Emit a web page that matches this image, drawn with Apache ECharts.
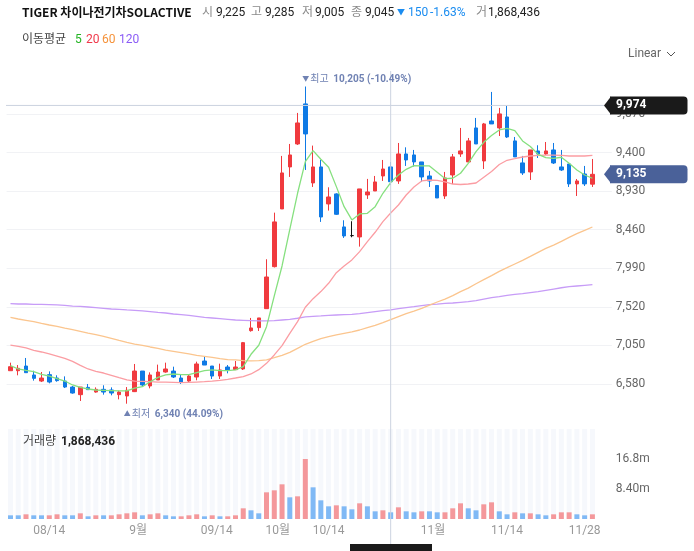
<!DOCTYPE html>
<html>
<head>
<meta charset="utf-8">
<style>
html, body { margin: 0; padding: 0; background: #fff; }
#chart { width: 694px; height: 551px; }
</style>
<script src="https://cdn.jsdelivr.net/npm/echarts@6/dist/echarts.min.js"></script>
</head>
<body>
<div id="chart"></div>
<script>
const opens = [6742, 6742, 6799, 6690, 6616, 6694, 6653, 6616, 6543, 6450, 6539, 6482, 6515, 6507, 6450, 6434, 6487, 6738, 6556, 6629, 6726, 6738, 6653, 6616, 6665, 6860, 6799, 6677, 6787, 6755, 6763, 7230, 7267, 7498, 8010, 8713, 9225, 9505, 9993, 9030, 9225, 8774, 8896, 8494, 8388, 8372, 8884, 8932, 9115, 9225, 9054, 9383, 9371, 9286, 9115, 8999, 8871, 9127, 9383, 9286, 9700, 9298, 9785, 9700, 9834, 9542, 9274, 9164, 9420, 9383, 9432, 9225, 9261, 9018, 9139, 9015];
const closes = [6791, 6771, 6718, 6649, 6653, 6604, 6621, 6543, 6470, 6543, 6511, 6515, 6482, 6470, 6482, 6503, 6738, 6568, 6690, 6726, 6763, 6665, 6604, 6677, 6824, 6811, 6677, 6751, 6751, 6787, 7084, 7263, 7385, 7884, 8555, 9152, 9371, 9761, 9627, 9225, 8615, 8859, 8648, 8384, 8388, 8957, 8920, 9042, 9200, 9045, 9383, 9310, 9286, 9103, 9054, 8847, 9091, 9347, 9420, 9542, 9505, 9749, 9749, 9871, 9590, 9347, 9152, 9432, 9383, 9420, 9273, 9188, 9018, 9054, 9018, 9135];
const lows = [6742, 6686, 6718, 6621, 6604, 6588, 6608, 6531, 6462, 6373, 6507, 6474, 6450, 6442, 6393, 6340, 6482, 6556, 6527, 6629, 6718, 6653, 6580, 6596, 6625, 6811, 6641, 6641, 6710, 6751, 6751, 7218, 7226, 7498, 8000, 8713, 9103, 9493, 9188, 8981, 8555, 8693, 8640, 8360, 8368, 8254, 8835, 8932, 9054, 9005, 9018, 9237, 9230, 9042, 8981, 8847, 8835, 9018, 9347, 9286, 9505, 9200, 9749, 9602, 9578, 9347, 9127, 9066, 9334, 9371, 9261, 9176, 8981, 8871, 8993, 8981];
const highs = [6840, 6811, 6897, 6742, 6726, 6734, 6686, 6673, 6556, 6543, 6580, 6539, 6564, 6539, 6499, 6543, 6824, 6738, 6722, 6816, 6840, 6791, 6690, 6698, 6852, 6909, 6799, 6828, 6811, 6860, 7092, 7385, 7385, 8100, 8668, 9359, 9505, 9883, 10205, 9485, 9310, 8977, 8904, 8575, 8563, 8957, 9079, 9115, 9310, 9285, 9517, 9464, 9432, 9286, 9176, 8999, 9164, 9383, 9700, 9578, 9822, 9761, 10139, 9944, 9968, 9590, 9359, 9432, 9489, 9529, 9517, 9432, 9261, 9078, 9237, 9322];

const ma5 = [6803, 6763, 6746, 6730, 6698, 6677, 6645, 6616, 6568, 6539, 6519, 6507, 6503, 6499, 6495, 6495, 6531, 6547, 6608, 6661, 6690, 6702, 6694, 6694, 6718, 6742, 6751, 6742, 6742, 6751, 6792, 6942, 7052, 7279, 7653, 8018, 8465, 8904, 9290, 9424, 9318, 9221, 8985, 8741, 8579, 8652, 8660, 8741, 8904, 9034, 9127, 9196, 9241, 9237, 9237, 9160, 9083, 9087, 9148, 9269, 9412, 9525, 9607, 9676, 9696, 9668, 9542, 9473, 9379, 9338, 9330, 9343, 9269, 9188, 9127, 9087];
const ma20 = [7055, 7039, 7019, 6990, 6970, 6946, 6921, 6893, 6856, 6807, 6763, 6734, 6714, 6686, 6657, 6629, 6616, 6612, 6608, 6604, 6604, 6600, 6596, 6600, 6604, 6608, 6616, 6625, 6637, 6653, 6670, 6702, 6755, 6832, 6934, 7048, 7198, 7340, 7515, 7620, 7706, 7807, 7937, 8018, 8092, 8193, 8315, 8429, 8559, 8664, 8761, 8883, 8981, 9054, 9066, 9060, 9042, 9017, 9011, 9017, 9029, 9100, 9170, 9255, 9306, 9325, 9346, 9358, 9365, 9370, 9370, 9365, 9358, 9358, 9358, 9365];
const ma60 = [7392, 7372, 7356, 7340, 7319, 7299, 7283, 7262, 7242, 7222, 7201, 7181, 7161, 7137, 7112, 7088, 7067, 7051, 7031, 7015, 6994, 6978, 6962, 6946, 6929, 6917, 6905, 6889, 6877, 6873, 6865, 6861, 6865, 6873, 6901, 6930, 6966, 7015, 7064, 7100, 7133, 7157, 7178, 7198, 7214, 7238, 7267, 7295, 7328, 7364, 7401, 7438, 7469, 7502, 7542, 7579, 7615, 7656, 7705, 7749, 7802, 7851, 7900, 7953, 7997, 8042, 8087, 8135, 8184, 8233, 8273, 8318, 8367, 8412, 8452, 8493];
const ma120 = [7559, 7555, 7555, 7551, 7551, 7547, 7543, 7539, 7530, 7526, 7518, 7510, 7502, 7494, 7490, 7482, 7478, 7470, 7462, 7453, 7445, 7433, 7425, 7417, 7405, 7392, 7384, 7376, 7368, 7360, 7356, 7352, 7348, 7348, 7352, 7360, 7368, 7381, 7397, 7405, 7409, 7417, 7421, 7425, 7429, 7438, 7450, 7462, 7474, 7482, 7498, 7511, 7522, 7534, 7546, 7554, 7563, 7567, 7575, 7583, 7595, 7615, 7632, 7644, 7660, 7672, 7680, 7693, 7705, 7721, 7737, 7753, 7766, 7774, 7782, 7790];

// volume in millions, volDir 1 = red, 0 = blue
const volumes = [1.03, 1.03, 1.31, 1.03, 1.03, 1.03, 1.31, 1.03, 1.03, 1.59, 0.75, 1.03, 1.03, 1.03, 1.31, 1.59, 1.87, 1.03, 1.31, 1.59, 1.03, 0.75, 0.75, 1.03, 1.31, 0.75, 1.03, 0.75, 0.75, 1.03, 2.99, 2.43, 1.59, 7.47, 8.03, 9.71, 6.07, 6.35, 16.8, 8.87, 5.23, 3.55, 3.83, 3.55, 2.71, 4.39, 3.55, 2.15, 2.43, 1.87, 3.27, 2.15, 1.87, 2.15, 2.15, 1.87, 1.87, 2.99, 4.39, 2.99, 2.43, 4.11, 4.67, 2.15, 1.31, 1.87, 1.59, 1.59, 1.31, 1.03, 1.31, 1.87, 1.87, 1.31, 1.03, 1.31];
const volDir = [0, 0, 1, 0, 0, 1, 1, 0, 0, 1, 0, 1, 0, 1, 1, 1, 1, 0, 1, 1, 0, 0, 1, 1, 1, 0, 1, 0, 1, 1, 1, 0, 0, 1, 1, 1, 0, 1, 1, 0, 0, 0, 1, 0, 0, 1, 0, 0, 1, 0, 1, 0, 0, 1, 0, 0, 1, 1, 1, 0, 0, 1, 1, 0, 0, 1, 0, 1, 0, 0, 1, 1, 1, 0, 0, 1];

const tickIdx = [5, 16, 26, 34, 41, 54, 64, 74];
const tickLabels = ['08/14', '9월', '09/14', '10월', '10/14', '11월', '11/14', '11/28'];

const RED = '#f03a3e';
const BLUE = '#0f7ae5';
const CJK = '"Noto Sans CJK KR", "Noto Sans", sans-serif';
const FONT = 'Roboto, ' + CJK;
const LEFT = 6.6;
const WIDTH = 605.2;
const CROSS_IDX = 49;
const CROSS_PRICE = 9974;
const LAST_PRICE = 9135;

// two empty bands on the right so the grid lines run on past the last candle
const categories = opens.map((_, i) => String(i)).concat(['', '']);

const candleData = opens.map((o, i) => {
    const item = { value: [o, closes[i], lows[i], highs[i]] };
    if (o === closes[i]) {
        item.itemStyle = { color: '#111', color0: '#111', borderColor: '#111', borderColor0: '#111' };
    }
    return item;
});

const maLine = (name, data, color) => ({
    name,
    type: 'line',
    data,
    symbol: 'none',
    smooth: false,
    z: 5,
    lineStyle: { width: 1.3, color },
});

const chart = echarts.init(document.getElementById('chart'));

chart.setOption({
    animation: false,
    backgroundColor: '#fff',
    textStyle: { fontFamily: FONT },
    grid: [
        { left: LEFT, width: WIDTH, top: 75.43, height: 347.14 },
        { left: LEFT, width: WIDTH, top: 429, height: 90 },
    ],
    xAxis: [
        {
            type: 'category',
            gridIndex: 0,
            data: categories,
            axisLine: { show: false },
            axisTick: { show: false },
            axisLabel: { show: false },
            splitLine: { show: false },
        },
        {
            type: 'category',
            gridIndex: 1,
            data: categories,
            axisLine: { show: false },
            axisTick: { show: false },
            splitLine: { show: false },
            axisLabel: {
                color: '#999',
                fontSize: 12,
                fontFamily: FONT,
                margin: 6,
                hideOverlap: false,
                interval: (i) => tickIdx.includes(i),
                formatter: (v, i) => {
                    const label = tickLabels[tickIdx.indexOf(i)];
                    if (label === '09/14') return `{w|${label}}`;
                    return label.endsWith('월') ? `{m|${label}}` : label;
                },
                rich: {
                    m: { color: '#999', fontSize: 12, fontFamily: FONT, padding: [0, 0, 0, 7] },
                    w: { color: '#999', fontSize: 12, fontFamily: FONT, padding: [0, 0, 0, 9] },
                },
            },
        },
    ],
    yAxis: [
        {
            type: 'value',
            gridIndex: 0,
            position: 'right',
            min: 6110,
            max: 10340,
            interval: 470,
            axisLine: { show: false },
            axisTick: { show: false },
            axisLabel: {
                color: '#666',
                fontSize: 12,
                fontFamily: FONT,
                margin: 4,
                showMinLabel: false,
                showMaxLabel: false,
                formatter: (v) => v.toLocaleString('en-US'),
            },
            splitLine: { showMinLine: false, showMaxLine: false, lineStyle: { color: '#f1f2f5', width: 1 } },
        },
        {
            type: 'value',
            gridIndex: 1,
            position: 'right',
            min: 0,
            max: 25.2,
            interval: 8.4,
            axisLine: { show: false },
            axisTick: { show: false },
            splitLine: { show: false },
            axisLabel: {
                color: '#666',
                fontSize: 12,
                fontFamily: FONT,
                margin: 4,
                showMinLabel: false,
                showMaxLabel: false,
                formatter: (v) => (v >= 10 ? v.toFixed(1) : v.toFixed(2)) + 'm',
            },
        },
    ],
    series: [
        {
            name: 'price',
            type: 'candlestick',
            data: candleData,
            barWidth: 4,
            z: 3,
            itemStyle: { color: RED, color0: BLUE, borderColor: RED, borderColor0: BLUE, borderWidth: 1 },
        },
        maLine('ma120', ma120, '#c79cf7'),
        maLine('ma60', ma60, '#fbc58e'),
        maLine('ma20', ma20, '#fb9da3'),
        maLine('ma5', ma5, '#86e07f'),
        {
            name: 'volume',
            type: 'bar',
            xAxisIndex: 1,
            yAxisIndex: 1,
            barWidth: 5,
            showBackground: true,
            backgroundStyle: { color: '#f6f8fc' },
            data: volumes.map((v, i) => ({
                value: v,
                itemStyle: { color: volDir[i] ? '#f4989b' : '#80b9f5' },
            })),
        },
    ],
});

const txt = (x, y, text, color, opts = {}) => ({
    type: 'text',
    x,
    y,
    silent: true,
    z: 20,
    style: {
        text,
        fill: color,
        font: `${opts.weight || 'normal'} ${opts.size || 12}px ${opts.font || FONT}`,
        verticalAlign: 'middle',
    },
});

const tag = (y, text, color) => ({
    type: 'group',
    silent: true,
    z: 15,
    children: [
        { type: 'polygon', z: 15, shape: { points: [[604, y], [611, y - 9], [611, y + 9]] }, style: { fill: color } },
        { type: 'rect', z: 15, shape: { x: 610, y: y - 9, width: 77.5, height: 18, r: [0, 4, 4, 0] }, style: { fill: color } },
        { type: 'text', z: 16, x: 616, y, style: { text, fill: '#fff', font: `bold 12px ${FONT}`, verticalAlign: 'middle' } },
    ],
});

const crossX = chart.convertToPixel({ xAxisIndex: 0 }, CROSS_IDX);
const crossY = chart.convertToPixel({ yAxisIndex: 0 }, CROSS_PRICE);
const lastY = chart.convertToPixel({ yAxisIndex: 0 }, LAST_PRICE);
const hiX = chart.convertToPixel({ xAxisIndex: 0 }, 38);
const loX = chart.convertToPixel({ xAxisIndex: 0 }, 15);

const CROSS = '#ccd3e0';
const NOTE = '#7082b3';
const GREY = '#8a8a8a';
const INK = '#222';
const QUOTE = '#1a8cf0';

chart.setOption({
    graphic: [
        { type: 'line', silent: true, z: 10, shape: { x1: crossX, y1: 71, x2: crossX, y2: 545 }, style: { stroke: CROSS, lineWidth: 1 } },
        { type: 'line', silent: true, z: 10, shape: { x1: 6, y1: crossY, x2: 604, y2: crossY }, style: { stroke: CROSS, lineWidth: 1 } },
        { type: 'rect', silent: true, z: 12, shape: { x: 350, y: 544, width: 82, height: 7 }, style: { fill: '#1a1a1a' } },
        tag(crossY, '9,974', '#1a1a1a'),
        tag(lastY, '9,135', '#4a6199'),

        txt(22, 12.5, 'TIGER 차이나전기차SOLACTIVE', '#111', { weight: 'bold', font: CJK }),
        txt(202, 12.5, '시', GREY),
        txt(216, 12.5, '9,225', INK),
        txt(251, 12.5, '고', GREY),
        txt(265, 12.5, '9,285', INK),
        txt(302, 12.5, '저', GREY),
        txt(315, 12.5, '9,005', INK),
        txt(351, 12.5, '종', GREY),
        txt(365, 12.5, '9,045', INK),
        txt(397, 12.5, '▼', QUOTE, { size: 8 }),
        txt(408, 12.5, '150', QUOTE),
        txt(430, 12.5, '-1.63%', QUOTE),
        txt(476, 12.5, '거', GREY),
        txt(488, 12.5, '1,868,436', INK),

        txt(22, 39.5, '이동평균', '#444'),
        txt(75, 39.5, '5', '#22b322'),
        txt(86, 39.5, '20', '#f0384a'),
        txt(102, 39.5, '60', '#f5923a'),
        txt(119, 39.5, '120', '#8b5cf6'),

        txt(628, 54, 'Linear', '#666'),
        { type: 'polyline', silent: true, z: 20, shape: { points: [[667, 52], [671, 56], [675, 52]] }, style: { stroke: '#555', fill: null, lineWidth: 1 } },

        txt(hiX - 3, 79.5, '▼', NOTE, { size: 7 }),
        txt(hiX + 5, 79.5, '최고', NOTE, { size: 10 }),
        txt(hiX + 28, 79.5, '10,205 (-10.49%)', NOTE, { size: 10, weight: 'bold' }),
        txt(loX - 3, 414, '▲', NOTE, { size: 7 }),
        txt(loX + 5, 414, '최저', NOTE, { size: 10 }),
        txt(loX + 28, 414, '6,340 (44.09%)', NOTE, { size: 10, weight: 'bold' }),

        txt(23, 442, '거래량', '#444'),
        txt(61, 442, '1,868,436', INK, { weight: 'bold' }),
    ],
});
</script>
</body>
</html>
